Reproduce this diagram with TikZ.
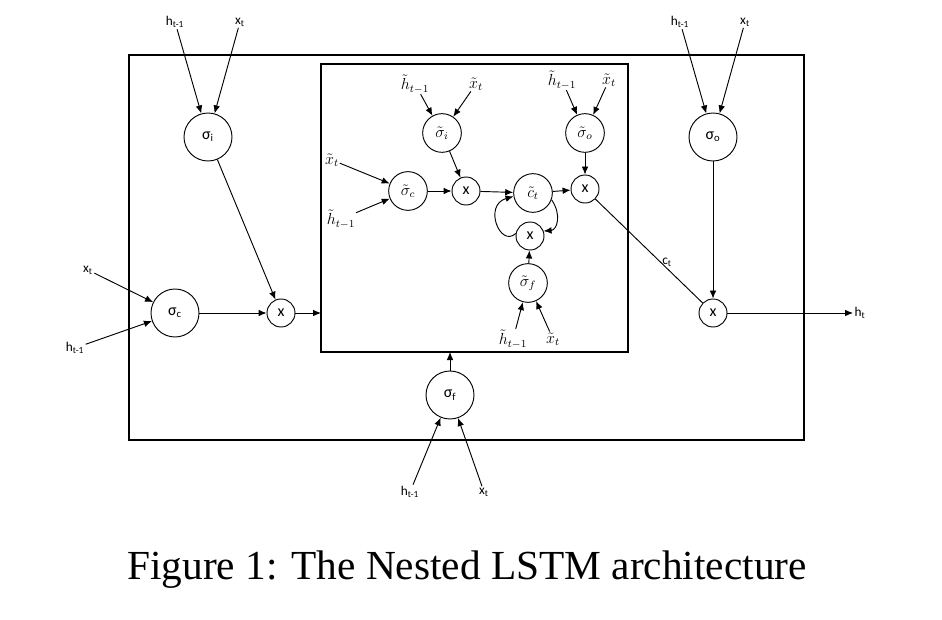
\documentclass[tikz,border=0pt]{standalone}
\usepackage{fontspec}
\setmainfont{Liberation Serif}
\newfontfamily\lbl{Carlito}
\usetikzlibrary{arrows.meta}
\begin{document}
\begin{tikzpicture}[x=0.75pt,y=-0.75pt,
  c/.style={circle,draw,line width=0.7pt,inner sep=0pt,font=\lbl\large},
  big/.style={c,minimum size=36pt},
  med/.style={c,minimum size=29pt},
  sm/.style={c,minimum size=21pt},
  t/.style={font=\lbl\normalsize,inner sep=1pt},
  m/.style={font=\large,inner sep=0.5pt},
  a/.style={-{Latex[length=6pt,width=5pt]},line width=0.7pt},
  box/.style={draw,line width=2pt}]
\useasboundingbox (0,0) rectangle (942,620);
\draw[box] (129,55) rectangle (804,440);
\draw[box] (321,64) rectangle (628,352);
\coordinate (ib) at (450,352);
\coordinate (il) at (321,313);
% outer
\node[big] (si) at (208,137) {σ\textsubscript{i}};
\node[t] (si1) at (175,22) {h\textsubscript{t-1}};
\node[t] (si2) at (240,22) {x\textsubscript{t}};
\node[big] (sc) at (175,313) {σ\textsubscript{c}};
\node[t] (sc1) at (88,270) {x\textsubscript{t}};
\node[t] (sc2) at (75,348) {h\textsubscript{t-1}};
\node[sm] (xl) at (281,313) {x};
\node[big] (sf) at (450,395) {σ\textsubscript{f}};
\node[t] (sf1) at (410,492) {h\textsubscript{t-1}};
\node[t] (sf2) at (484,492) {x\textsubscript{t}};
\node[big] (so) at (713,137) {σ\textsubscript{o}};
\node[t] (so1) at (680,22) {h\textsubscript{t-1}};
\node[t] (so2) at (745,22) {x\textsubscript{t}};
\node[sm] (xr) at (713,313) {x};
\node[t] (ht) at (860,313) {h\textsubscript{t}};
\node[t] (ct) at (667,262) {c\textsubscript{t}};
\draw[a] (si1) -- (si); \draw[a] (si2) -- (si);
\draw[a] (sc1) -- (sc); \draw[a] (sc2) -- (sc);
\draw[a] (si) -- (xl); \draw[a] (sc) -- (xl); \draw[a] (xl) -- (il);
\draw[a] (sf1) -- (sf); \draw[a] (sf2) -- (sf); \draw[a] (sf) -- (ib);
\draw[a] (so1) -- (so); \draw[a] (so2) -- (so);
\draw[a] (so) -- (xr); \draw[a] (xr) -- (ht);
% inner
\node[med] (ti) at (442,133) {$\tilde\sigma_i$};
\node[m] (ti1) at (415,84) {$\tilde h_{t-1}$};
\node[m] (ti2) at (476,84) {$\tilde x_t$};
\node[med] (tc) at (408,191) {$\tilde\sigma_c$};
\node[m] (tc1) at (332,160) {$\tilde x_t$};
\node[m] (tc2) at (341,219) {$\tilde h_{t-1}$};
\node[sm] (x1) at (466,191) {x};
\node[med] (cc) at (533,193) {$\tilde c_t$};
\node[sm] (x2) at (585,189) {x};
\node[med] (to) at (585,133) {$\tilde\sigma_o$};
\node[m] (to1) at (562,80) {$\tilde h_{t-1}$};
\node[m] (to2) at (609,80) {$\tilde x_t$};
\node[sm] (x3) at (530,236) {x};
\node[med] (tf) at (528,283) {$\tilde\sigma_f$};
\node[m] (tf1) at (513,339) {$\tilde h_{t-1}$};
\node[m] (tf2) at (553,339) {$\tilde x_t$};
\draw[a] (ti1) -- (ti); \draw[a] (ti2) -- (ti);
\draw[a] (tc1) -- (tc); \draw[a] (tc2) -- (tc);
\draw[a] (ti) -- (x1); \draw[a] (tc) -- (x1); \draw[a] (x1) -- (cc);
\draw[a] (cc) -- (x2); \draw[a] (to1) -- (to); \draw[a] (to2) -- (to);
\draw[a] (to) -- (x2); \draw[a] (tf1) -- (tf); \draw[a] (tf2) -- (tf);
\draw[a] (tf) -- (x3);
\draw[a] (cc.-20) .. controls (562,215) and (557,230) .. (x3.20);
\draw[a] (x3.170) .. controls (500,248) and (483,205) .. (cc.190);
\draw[line width=0.7pt] (x2) -- (xr);
\node[font=\fontsize{31}{36}\selectfont] (cap) at (467,570) {Figure 1: The Nested LSTM architecture};
\end{tikzpicture}
\end{document}
